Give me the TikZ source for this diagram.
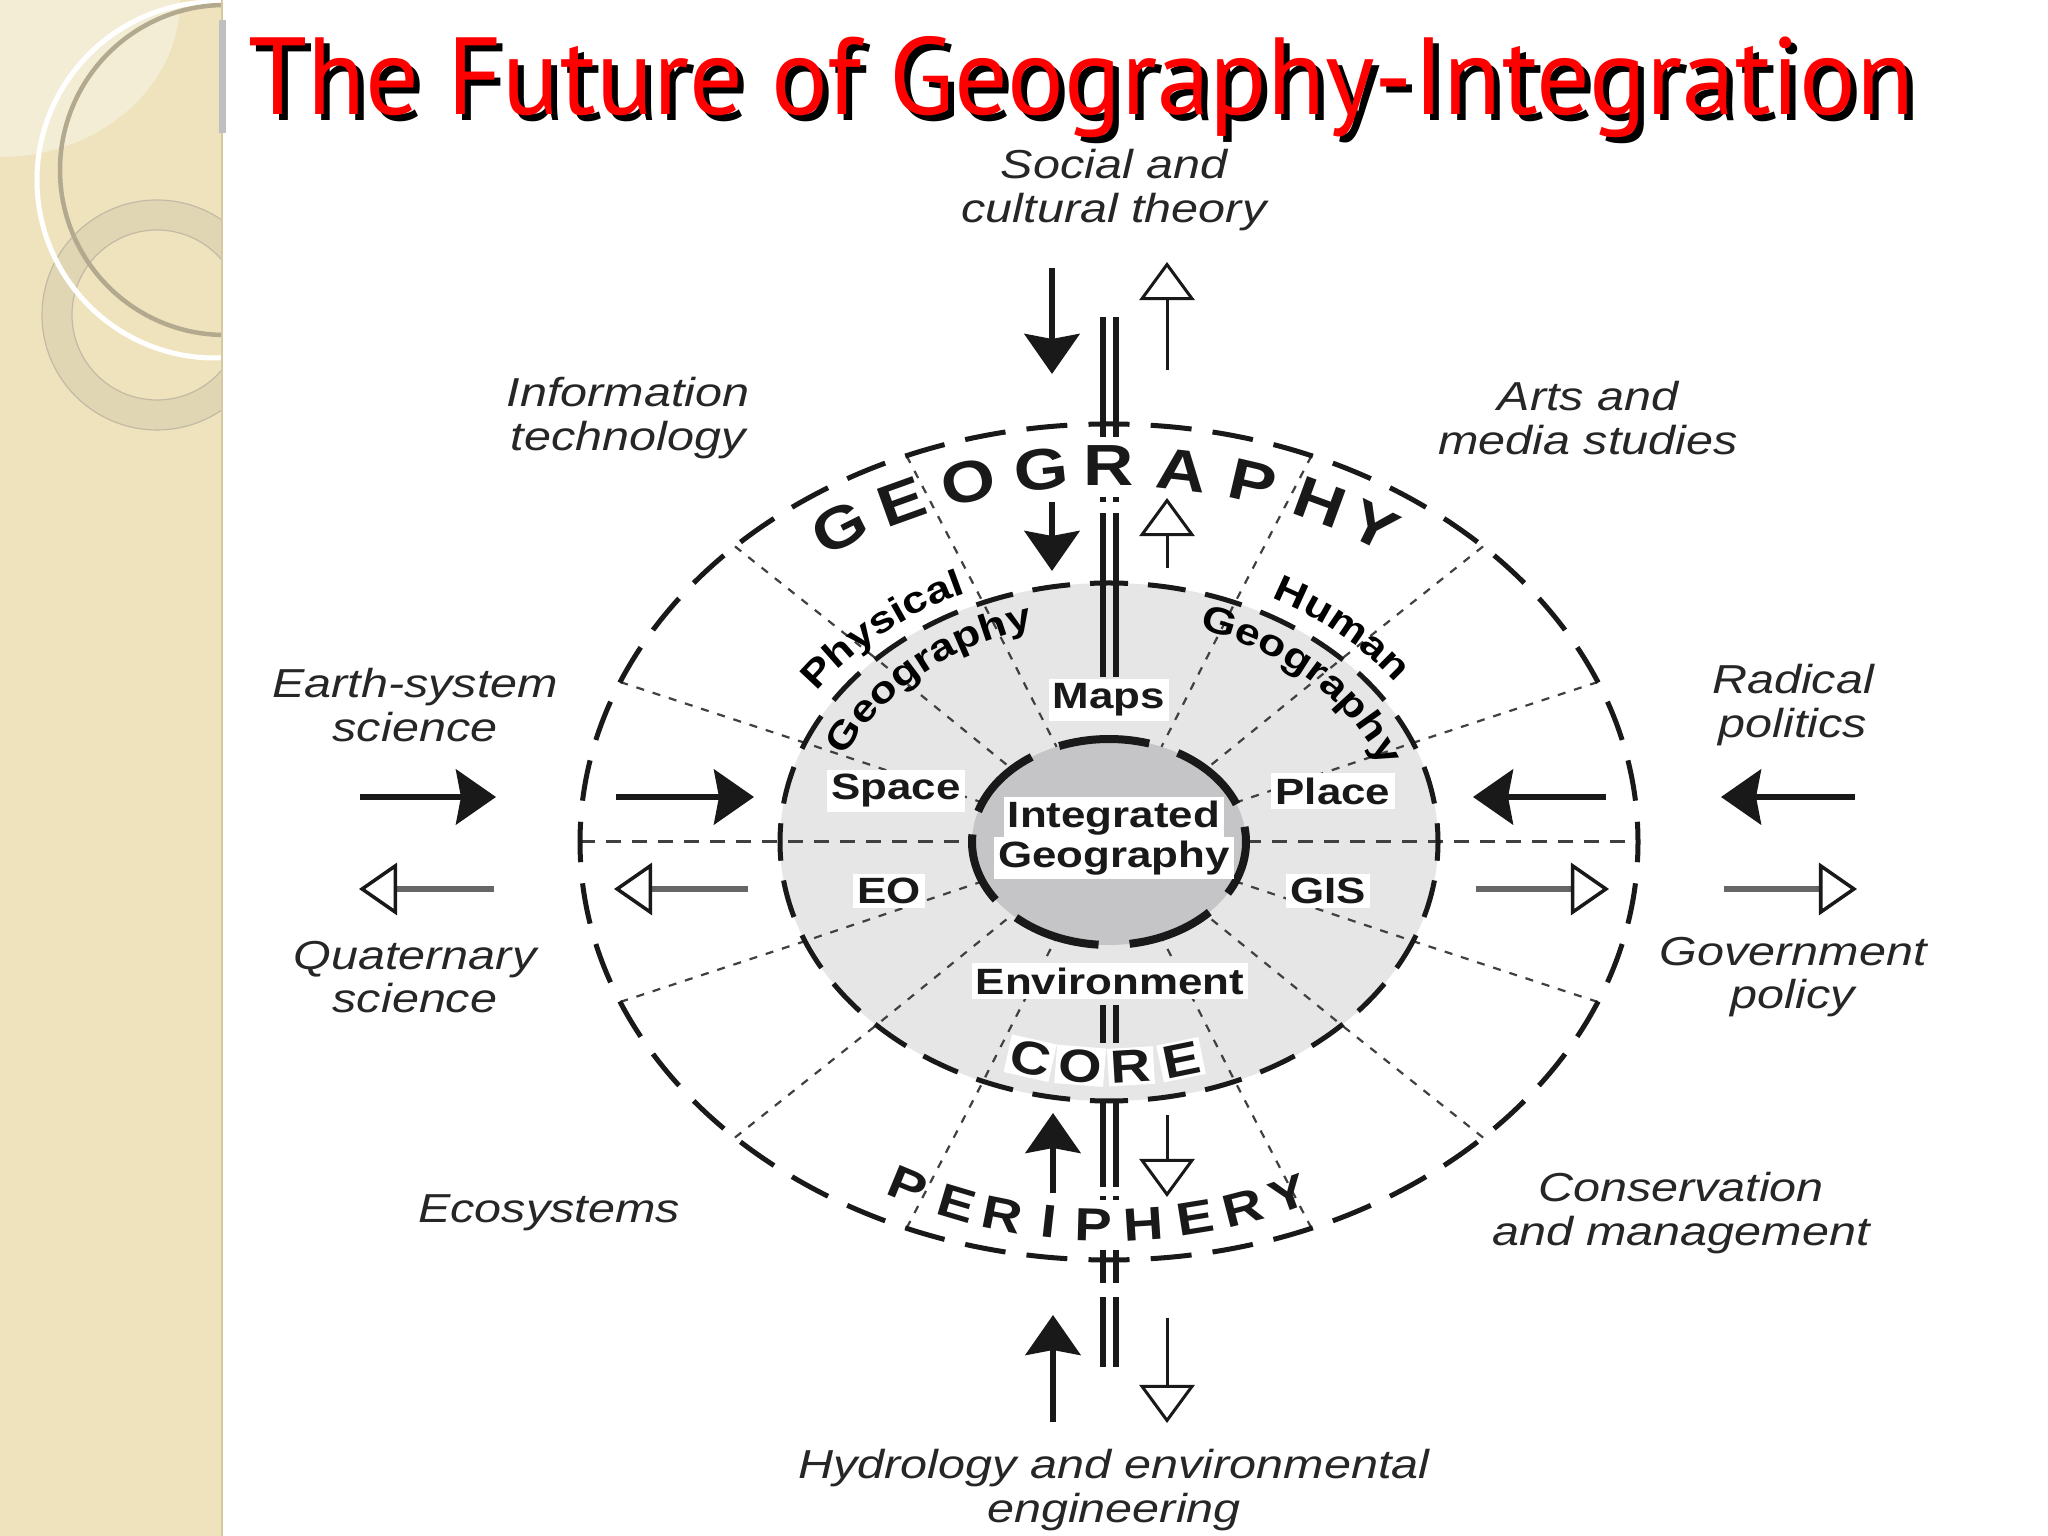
\documentclass[tikz,border=0pt]{standalone}
\usepackage{fontspec}
\usepackage{graphicx}
\setmainfont{Liberation Sans}
\newfontfamily\labfont[FakeStretch=1.2]{Liberation Sans}
\newfontfamily\titlefont{PT Sans}
\usetikzlibrary{arrows.meta,decorations.text}
\definecolor{stripc}{HTML}{EFE3BD}
\definecolor{stripl}{HTML}{F4EDD6}
\definecolor{stripe}{HTML}{D6C9A2}
\definecolor{ringg}{HTML}{B3A98F}
\definecolor{ringb}{HTML}{DDD2B0}
\definecolor{coremid}{HTML}{E6E6E6}
\definecolor{innerc}{HTML}{C5C5C8}
\definecolor{titlered}{HTML}{FF0000}
\newcommand\curvf{\labfont\bfseries\fontsize{10.6}{12}\selectfont}
\begin{document}
\begin{tikzpicture}[x=0.01cm, y=0.01cm,
  ital/.style={font=\labfont\itshape\fontsize{11.5}{12.4}\selectfont, align=center, inner sep=0pt, text=black!85},
  blab/.style={font=\labfont\bfseries\fontsize{10.4}{12}\selectfont, fill=white, inner sep=1.2pt, text=black!90},
  bigl/.style={font=\labfont\bfseries\fontsize{16.5}{16.5}\selectfont, inner sep=0pt, text=black!90},
  ringl/.style={font=\labfont\bfseries\fontsize{13.2}{13.5}\selectfont, inner sep=0.8pt, text=black!90},
  spoke/.style={draw=black!75, line width=0.022cm, dash pattern=on 0.08cm off 0.09cm},
  hline/.style={draw=black!75, line width=0.03cm, dash pattern=on 0.15cm off 0.11cm},
  odash/.style={draw=black!90, line width=0.05cm, dash pattern=on 0.41cm off 0.2119cm, dash phase=0.205cm},
  mdash/.style={draw=black!90, line width=0.05cm, dash pattern=on 0.38cm off 0.1994cm, dash phase=0.19cm},
  iseg/.style={draw=black!90, line width=0.08cm},
  dbl/.style={draw=black!90, line width=0.06cm},
  blk/.style={draw=black!90, line width=0.06cm, -{Stealth[length=0.4cm, width=0.55cm, inset=0.05cm]}},
  opnv/.style={draw=black!90, line width=0.03cm, -{Triangle[open, length=0.38cm, width=0.55cm, line width=0.03cm]}},
  opnh/.style={draw=black!60, line width=0.06cm, -{Triangle[open, length=0.38cm, width=0.52cm, line width=0.035cm, color=black!90]}},
]
\useasboundingbox (0,0) rectangle (2048,1536);
\fill[white] (0,0) rectangle (2048,1536);
% ---- slide strip
\fill[stripc] (0,0) rectangle (222,1536);
\fill[stripl] (0,1536) -- (0,1379) arc[start angle=270, end angle=360, x radius=180, y radius=157] -- cycle;
\begin{scope}
  \clip (0,0) rectangle (222,1536);
  \draw[ringb, line width=0.3cm, opacity=0.75] (157,1221) circle[radius=100];
  \draw[ringg!80, line width=0.012cm] (157,1221) circle[radius=85];
  \draw[ringg!80, line width=0.012cm] (157,1221) circle[radius=115];
  \draw[white, line width=0.05cm] (215,1356) circle[radius=178];
  \draw[ringg, line width=0.045cm] (225,1366) circle[radius=165];
\end{scope}
\draw[stripe, line width=0.015cm] (222,0) -- (222,1536);
\fill[black!25] (219,1403) rectangle (226,1516);
% ---- title
\node[anchor=base west, inner sep=0pt, text=black] (titleshadow) at (254,1415)
  {\resizebox{16.65cm}{0.78cm}{\titlefont The Future of Geography-Integration}};
\node[anchor=base west, inner sep=0pt, text=titlered] (title) at (248,1421)
  {\resizebox{16.65cm}{0.78cm}{\titlefont The Future of Geography-Integration}};
% ---- core fills
\coordinate (C) at (1109,694);
\fill[coremid] (C) ellipse[x radius=329, y radius=259];
\fill[innerc] (C) ellipse[x radius=137, y radius=103];
% ---- spokes
\foreach \t in {22.5,45,67.5,112.5,135,157.5,202.5,225,247.5,292.5,315,337.5}{
  \draw[spoke] ({1109+529*cos(\t)},{694+418*sin(\t)}) -- ({1109+329*cos(\t)},{694+259*sin(\t)}) -- ({1109+137*cos(\t)},{694+103*sin(\t)});
}
\draw[hline] (580,694) -- (972,694);
\draw[hline] (1246,694) -- (1638,694);
% ---- ellipse outlines
\foreach \a/\b in {90/0,90/180,270/360,270/180}{
  \draw[odash] ({1109+529*cos(\a)},{694+418*sin(\a)}) arc[start angle=\a, end angle=\b, x radius=529, y radius=418];
  \draw[mdash] ({1109+329*cos(\a)},{694+259*sin(\a)}) arc[start angle=\a, end angle=\b, x radius=329, y radius=259];
}
\foreach \k in {0,...,6}{
  \pgfmathsetmacro\sa{21.5+51.43*\k}
  \pgfmathsetmacro\sb{\sa+38.4}
  \draw[iseg] ({1109+137*cos(\sa)},{694+103*sin(\sa)}) arc[start angle=\sa, end angle=\sb, x radius=137, y radius=103];
}
% ---- vertical double line
\foreach \ya/\yb [count=\i] in {1219/1099,1039/1034,1023/859,531/493,434/349,340/336,286/253,239/169}{
  \coordinate (dla\i) at (1103,\ya); \coordinate (dlb\i) at (1103,\yb);
  \coordinate (dra\i) at (1116,\ya); \coordinate (drb\i) at (1116,\yb);
  \draw[dbl] (dla\i) -- (dlb\i);
  \draw[dbl] (dra\i) -- (drb\i);
}
% ---- arrows
\coordinate (t1a) at (1052,1268); \coordinate (t1b) at (1052,1162);
\coordinate (t2a) at (1167,1166); \coordinate (t2b) at (1167,1274);
\coordinate (t3a) at (1052,1034); \coordinate (t3b) at (1052,965);
\coordinate (t4a) at (1167,968);  \coordinate (t4b) at (1167,1038);
\coordinate (b1a) at (1053,343);  \coordinate (b1b) at (1053,423);
\coordinate (b2a) at (1167,421);  \coordinate (b2b) at (1167,339);
\coordinate (b3a) at (1053,114);  \coordinate (b3b) at (1053,221);
\coordinate (b4a) at (1167,218);  \coordinate (b4b) at (1167,113);
\coordinate (l1a) at (360,739);   \coordinate (l1b) at (496,739);
\coordinate (l2a) at (616,739);   \coordinate (l2b) at (754,739);
\coordinate (l3a) at (494,647);   \coordinate (l3b) at (359,647);
\coordinate (l4a) at (748,647);   \coordinate (l4b) at (614,647);
\coordinate (r1a) at (1606,739);  \coordinate (r1b) at (1473,739);
\coordinate (r2a) at (1855,739);  \coordinate (r2b) at (1721,739);
\coordinate (r3a) at (1476,647);  \coordinate (r3b) at (1609,647);
\coordinate (r4a) at (1724,647);  \coordinate (r4b) at (1857,647);
\draw[blk] (t1a) -- (t1b);  \draw[opnv] (t2a) -- (t2b);
\draw[blk] (t3a) -- (t3b);  \draw[opnv] (t4a) -- (t4b);
\draw[blk] (b1a) -- (b1b);  \draw[opnv] (b2a) -- (b2b);
\draw[blk] (b3a) -- (b3b);  \draw[opnv] (b4a) -- (b4b);
\draw[blk] (l1a) -- (l1b);  \draw[blk] (l2a) -- (l2b);
\draw[opnh] (l3a) -- (l3b); \draw[opnh] (l4a) -- (l4b);
\draw[blk] (r1a) -- (r1b);  \draw[blk] (r2a) -- (r2b);
\draw[opnh] (r3a) -- (r3b); \draw[opnh] (r4a) -- (r4b);
% ---- outer italic labels
\node[ital] (social) at (1114,1346) {Social and\\cultural theory};
\node[ital] (info) at (628,1118) {Information\\technology};
\node[ital] (arts) at (1588,1118) {Arts and\\media studies};
\node[ital] (earth) at (415,831) {Earth-system\\science};
\node[ital] (radical) at (1793,831) {Radical\\politics};
\node[ital] (quat) at (415,559) {Quaternary\\science};
\node[ital] (gov) at (1793,559) {Government\\policy};
\node[ital] (eco) at (549,323) {Ecosystems};
\node[ital] (cons) at (1681,323) {Conservation\\and management};
\node[ital] (hydro) at (1114,46) {Hydrology and environmental\\engineering};
% ---- inner labels
\node[blab] (maps) at (1109,836) {Maps};
\node[blab] (space) at (896,745) {Space};
\node[blab] (place) at (1333,745) {Place};
\node[blab] (eo) at (889,645) {EO};
\node[blab] (gis) at (1328,645) {GIS};
\node[blab] (env) at (1110,555) {Environment};
\node[blab] (integ) at (1114,718) {Integrated};
\node[blab] (integgeo) at (1114,678) {Geography};
% ---- GEOGRAPHY
\foreach \ch/\t [count=\i] in {G/123.3,E/115.1,O/106.7,G/98.0,R/90,A/81.5,P/73.0,H/64.5,Y/57.3}{
  \pgfmathsetmacro\rot{atan2(-376*cos(\t),490*sin(\t))}
  \node[bigl, rotate=\rot] (geo\i) at ({1109+490*cos(\t)},{694+376*sin(\t)}) {\ch};
}
% ---- CORE
\foreach \ch/\t [count=\i] in {C/254,O/264.2,R/274.4,E/284.6}{
  \pgfmathsetmacro\rot{atan2(225*cos(\t),-286*sin(\t))}
  \node[ringl, fill=white, rotate=\rot] (core\i) at ({1109+286*cos(\t)},{694+225*sin(\t)}) {\ch};
}
% ---- PERIPHERY
\foreach \ch/\t [count=\i] in {P/243.8,E/250.5,R/256.5,I/262.4,P/268.1,H/274.4,E/280.9,R/287.1,Y/293.3}{
  \pgfmathsetmacro\rot{atan2(383*cos(\t),-455*sin(\t))}
  \node[ringl, rotate=\rot] (peri\i) at ({1109+455*cos(\t)},{694+383*sin(\t)}) {\ch};
}
% ---- curved words
\path[decorate, decoration={text along path, text={|\curvf|Physical}, text align=center}]
  ({1109+350*cos(175)},{694+273*sin(175)}) arc[start angle=175, end angle=91, x radius=350, y radius=273];
\path[decorate, decoration={text along path, text={|\curvf|Geography}, text align=center}]
  ({1109+285*cos(178)},{694+222*sin(178)}) arc[start angle=178, end angle=89, x radius=285, y radius=222];
\path[decorate, decoration={text along path, text={|\curvf|Human}, text align=center}]
  ({1109+352*cos(90)},{694+275*sin(90)}) arc[start angle=90, end angle=2, x radius=352, y radius=275];
\path[decorate, decoration={text along path, text={|\curvf|Geography}, text align=center}]
  ({1109+289*cos(88)},{694+224*sin(88)}) arc[start angle=88, end angle=-1, x radius=289, y radius=224];
\end{tikzpicture}
\end{document}
